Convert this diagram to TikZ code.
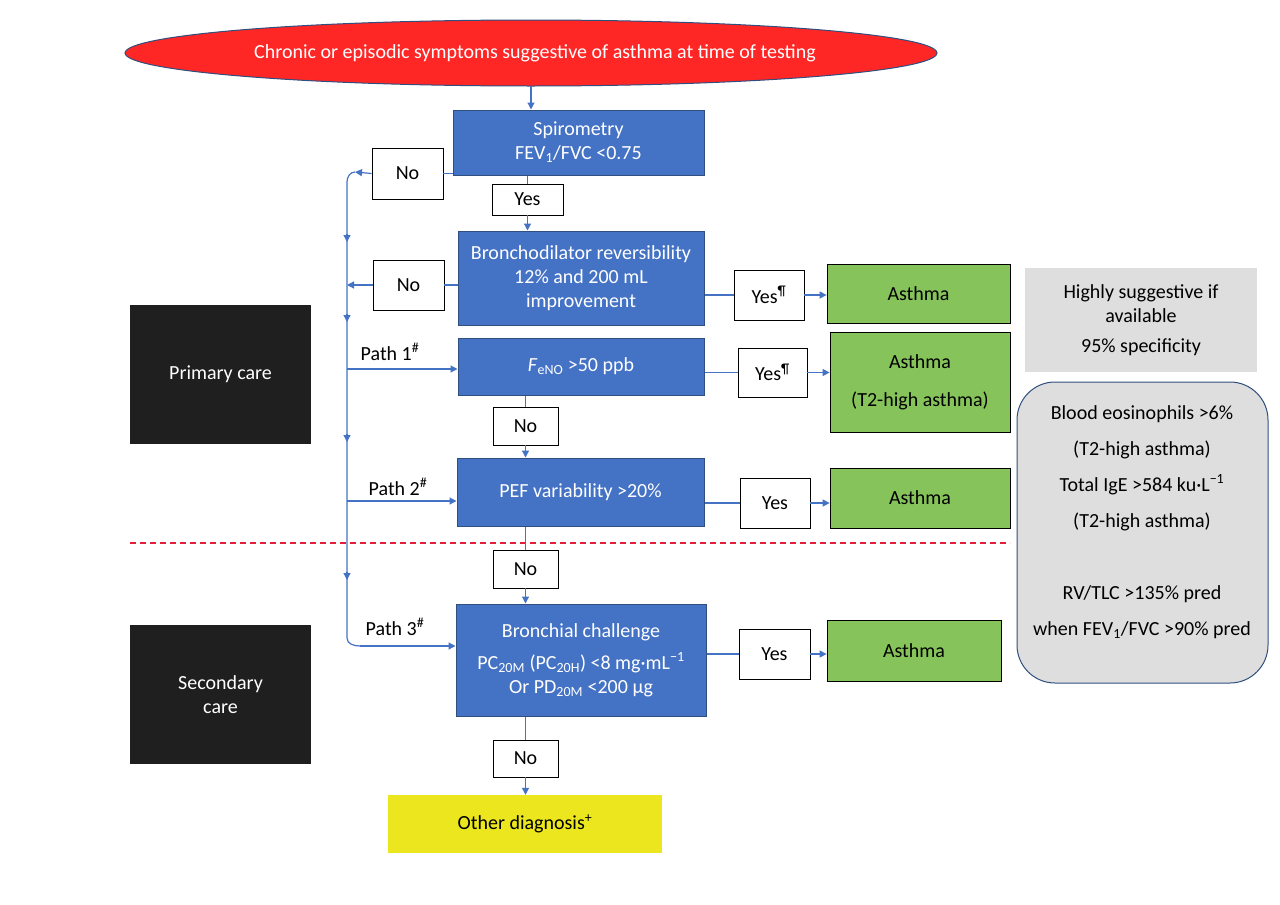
\documentclass[tikz,border=0pt]{standalone}
\usepackage{fontspec}
\setmainfont{Carlito}
\usetikzlibrary{arrows.meta}
\definecolor{bbox}{HTML}{4472C4}
\definecolor{bedge}{HTML}{2F4F7F}
\definecolor{gbox}{HTML}{86C35A}
\definecolor{line}{HTML}{4472C4}
\definecolor{dashred}{HTML}{E0203A}
\definecolor{ybox}{HTML}{EBE61E}
\begin{document}
\begin{tikzpicture}[x=1pt,y=-1pt,
  font=\fontsize{20}{24}\selectfont,
  blue box/.style={draw=bedge,fill=bbox,text=white,align=center,line width=1pt},
  tag/.style={draw=black,fill=white,line width=0.8pt},
  green box/.style={draw=black,fill=gbox,align=center,line width=0.8pt},
  side/.style={fill=black!88,text=white,align=center},
  arrow/.style={draw=line,line width=1.2pt,-{Triangle[length=7pt,width=7pt]}},
  conn/.style={draw=line,line width=1.2pt}]
\useasboundingbox (0,0) rectangle (1280,905);
\newcommand{\bx}[5]{\node[#1,minimum width=#4-#2,minimum height=#5-#3,inner sep=0pt] at ({(#2+#4)/2},{(#3+#5)/2})}
% top ellipse
\draw[fill=red!85,draw=bedge,line width=1pt] (531,53) ellipse (406 and 33);
\node[text=white] (top) at (535,53) {Chronic or episodic symptoms suggestive of asthma at time of testing};
\coordinate (c) at (531,86);
% main column
\bx{blue box}{453}{110}{704}{175} (spi) {Spirometry\\FEV\textsubscript{1}/FVC <0.75};
\bx{blue box}{458}{231}{704}{325} (bro) {Bronchodilator reversibility\\12\% and 200 mL\\improvement};
\bx{blue box}{458}{338}{704}{395} (feno) {\textit{F}\textsubscript{eNO} >50 ppb};
\bx{blue box}{457}{458}{704}{526} (pef) {PEF variability >20\%};
\bx{blue box}{456}{604}{706}{716} (bc) {Bronchial challenge\\[8pt]PC\textsubscript{20M} (PC\textsubscript{20H}) <8 mg·mL\textsuperscript{−1}\\Or PD\textsubscript{20M} <200 µg};
\bx{fill=ybox}{388}{795}{662}{853} (oth) {Other diagnosis\textsuperscript{+}};
% tags
\bx{tag}{372}{148}{443}{199} (no1) {No};
\bx{tag}{492}{184}{563}{215} (yes1) {Yes};
\bx{tag}{373}{260}{444}{310} (no2) {No};
\bx{tag}{734}{270}{804}{320} (yes2) {Yes\textsuperscript{¶}};
\bx{tag}{738}{348}{807}{397} (yes3) {Yes\textsuperscript{¶}};
\bx{tag}{493}{407}{558}{445} (no3) {No};
\bx{tag}{740}{478}{810}{528} (yes4) {Yes};
\bx{tag}{493}{550}{558}{588} (no4) {No};
\bx{tag}{739}{629}{810}{679} (yes5) {Yes};
\bx{tag}{493}{740}{558}{777} (no5) {No};
% results
\bx{green box}{827}{264}{1010}{323} (a1) {Asthma};
\bx{green box}{830}{332}{1010}{432} (a2) {Asthma\\[14pt](T2-high asthma)};
\bx{green box}{830}{468}{1010}{528} (a3) {Asthma};
\bx{green box}{827}{620}{1001}{681} (a4) {Asthma};
% side notes
\bx{fill=black!13,align=center}{1025}{268}{1257}{372} (hs) {Highly suggestive if\\available\\[6pt]95\% specificity};
\node[draw=bedge,fill=black!13,rounded corners=38pt,line width=1pt,minimum width=251,minimum height=301,inner sep=0pt] (rv) at (1142.5,532.5) {};
\node[align=center,inner sep=0pt] (rvt) at (1142,522)
 {Blood eosinophils >6\%\\[12pt](T2-high asthma)\\[12pt]Total IgE >584 ku·L\textsuperscript{−1}\\[12pt](T2-high asthma)\\[48pt]RV/TLC >135\% pred\\[12pt]when FEV\textsubscript{1}/FVC >90\% pred};
\bx{side}{130}{305}{311}{444} (pc) {Primary care};
\bx{side}{130}{625}{311}{764} (sc) {Secondary\\care};
% divider
\draw[dashred,line width=1.3pt,dash pattern=on 6pt off 4pt] (130,543) -- (1010,543);
% main flow
\draw[arrow] (c) -- (c |- spi.north);
\draw[conn] (spi.south -| yes1) -- (yes1.north); \draw[arrow] (yes1.south) -- (bro.north -| yes1);
\draw[conn] (feno.south -| no3) -- (no3.north); \draw[arrow] (no3.south) -- (pef.north -| no3);
\draw[conn] (pef.south -| no4) -- (no4.north); \draw[arrow] (no4.south) -- (bc.north -| no4);
\draw[conn] (bc.south -| no5) -- (no5.north); \draw[arrow] (no5.south) -- (oth.north -| no5);
% yes branches
\draw[conn] (bro.east |- yes2) -- (yes2.west); \draw[arrow] (yes2.east) -- (a1.west |- yes2);
\draw[conn] (feno.east |- yes3) -- (yes3.west); \draw[arrow] (yes3.east) -- (a2.west |- yes3);
\draw[conn] (pef.east |- yes4) -- (yes4.west); \draw[arrow] (yes4.east) -- (a3.west |- yes4);
\draw[conn] (bc.east |- yes5) -- (yes5.west); \draw[arrow] (yes5.east) -- (a4.west |- yes5);
% no branches to the left rail
\coordinate (r2) at (347,285);
\coordinate (p1) at (347,369);
\coordinate (p2) at (347,501);
\coordinate (r3) at (347,638);
\draw[conn] (spi.west |- no1) -- (no1.east);
\draw[arrow] (no1.west) -- (355,172);
\draw[conn] (no2.east) -- (bro.west |- no2);
\draw[arrow] (no2.west) -- (r2);
\draw[conn] (355,172) to[out=180,in=90] (347,182) -- (r3) to[out=-90,in=180] (360,646);
\draw[arrow] (360,646) -- (bc.west |- 0,646);
\draw[arrow] (p1) -- (feno.west |- p1);
\draw[arrow] (p2) -- (pef.west |- p2);
\foreach \y in {242,322,442,580}
  \draw[draw=line,line width=1.2pt,-{Triangle[length=7pt,width=7pt]}] (347,\y-8) -- (347,\y);
\node (l1) at (390,352) {Path 1\textsuperscript{\#}};
\node (l2) at (398,487) {Path 2\textsuperscript{\#}};
\node (l3) at (395,627) {Path 3\textsuperscript{\#}};
\end{tikzpicture}
\end{document}
